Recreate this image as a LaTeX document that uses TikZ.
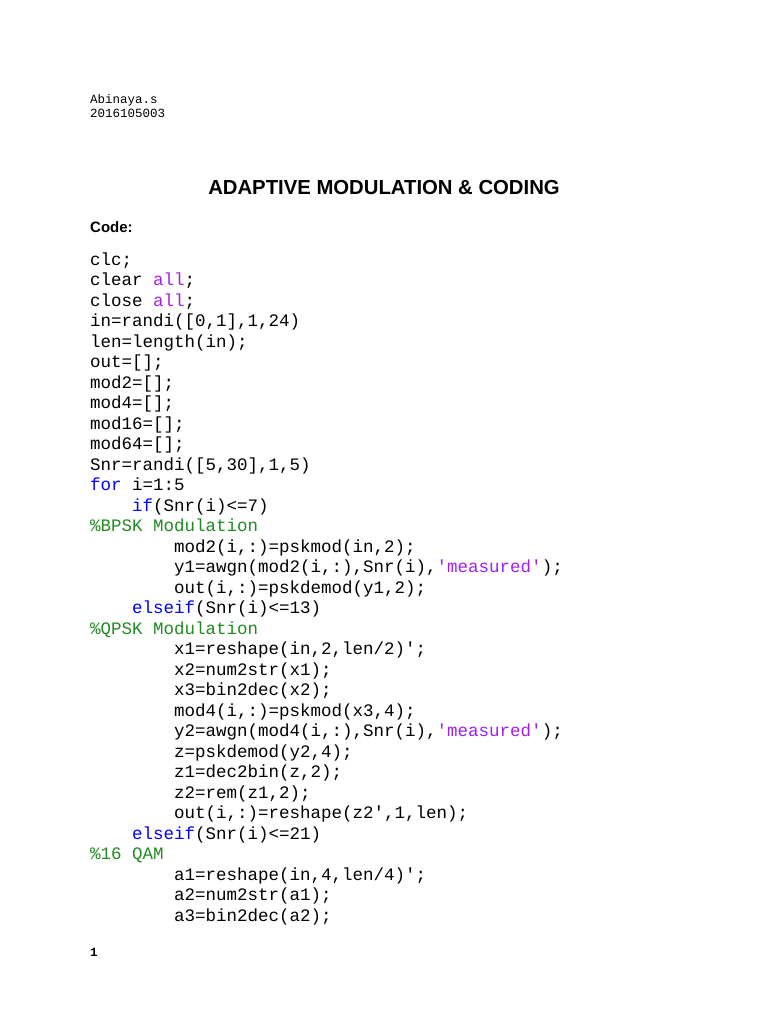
\documentclass[tikz,border=0pt]{standalone}
\usepackage{fontspec}
\setmainfont{Liberation Sans}
\newfontfamily\cmono{Liberation Mono}
\definecolor{kw}{RGB}{0,0,255}
\definecolor{st}{RGB}{160,32,240}
\definecolor{cm}{RGB}{34,139,34}
\newcommand{\K}[1]{\textcolor{kw}{#1}}
\newcommand{\Sg}[1]{\textcolor{st}{#1}}
\newcommand{\Cm}[1]{\textcolor{cm}{#1}}
\begin{document}
\begin{tikzpicture}[x=1pt,y=-1pt,
  codeline/.style={anchor=base west,inner sep=0pt,font=\cmono\fontsize{17.5}{20}\selectfont},
  small/.style={anchor=base west,inner sep=0pt,font=\cmono\fontsize{12.5}{14}\selectfont}]
\useasboundingbox[fill=white] (0,0) rectangle (768,1024);
\node[small] (n1) at (90,104) {Abinaya.s};
\node[small] (n2) at (90,118) {2016105003};
\node[anchor=base,inner sep=0pt,font=\bfseries\fontsize{20.3}{22}\selectfont] (title) at (384,195) {ADAPTIVE MODULATION \& CODING};
\node[anchor=base west,inner sep=0pt,font=\bfseries\fontsize{15}{16}\selectfont] (code) at (90,233) {Code:};
\newcommand{\cl}[4]{\node[codeline] (#1) at (#2,#3) {#4};}
\def\a{90}\def\b{132}\def\c{174}
\cl{l1}{\a}{265}{clc;}
\cl{l2}{\a}{285.5}{clear \Sg{all};}
\cl{l3}{\a}{306}{close \Sg{all};}
\cl{l4}{\a}{326.5}{in=randi([0,1],1,24)}
\cl{l5}{\a}{347}{len=length(in);}
\cl{l6}{\a}{367.5}{out=[];}
\cl{l7}{\a}{388}{mod2=[];}
\cl{l8}{\a}{408.5}{mod4=[];}
\cl{l9}{\a}{429}{mod16=[];}
\cl{l10}{\a}{449.5}{mod64=[];}
\cl{l11}{\a}{470}{Snr=randi([5,30],1,5)}
\cl{l12}{\a}{490.5}{\K{for} i=1:5}
\cl{l13}{\b}{511}{\K{if}(Snr(i)<=7)}
\cl{l14}{\a}{531.5}{\Cm{\%BPSK Modulation}}
\cl{l15}{\c}{552}{mod2(i,:)=pskmod(in,2);}
\cl{l16}{\c}{572.5}{y1=awgn(mod2(i,:),Snr(i),\Sg{'measured'});}
\cl{l17}{\c}{593}{out(i,:)=pskdemod(y1,2);}
\cl{l18}{\b}{613.5}{\K{elseif}(Snr(i)<=13)}
\cl{l19}{\a}{634}{\Cm{\%QPSK Modulation}}
\cl{l20}{\c}{654.5}{x1=reshape(in,2,len/2)';}
\cl{l21}{\c}{675}{x2=num2str(x1);}
\cl{l22}{\c}{695.5}{x3=bin2dec(x2);}
\cl{l23}{\c}{716}{mod4(i,:)=pskmod(x3,4);}
\cl{l24}{\c}{736.5}{y2=awgn(mod4(i,:),Snr(i),\Sg{'measured'});}
\cl{l25}{\c}{757}{z=pskdemod(y2,4);}
\cl{l26}{\c}{777.5}{z1=dec2bin(z,2);}
\cl{l27}{\c}{798}{z2=rem(z1,2);}
\cl{l28}{\c}{818.5}{out(i,:)=reshape(z2',1,len);}
\cl{l29}{\b}{839}{\K{elseif}(Snr(i)<=21)}
\cl{l30}{\a}{859.5}{\Cm{\%16 QAM}}
\cl{l31}{\c}{880}{a1=reshape(in,4,len/4)';}
\cl{l32}{\c}{900.5}{a2=num2str(a1);}
\cl{l33}{\c}{921}{a3=bin2dec(a2);}
\node[small,font=\bfseries\cmono\fontsize{12.5}{14}\selectfont] (pg) at (90,956) {1};
\end{tikzpicture}
\end{document}
